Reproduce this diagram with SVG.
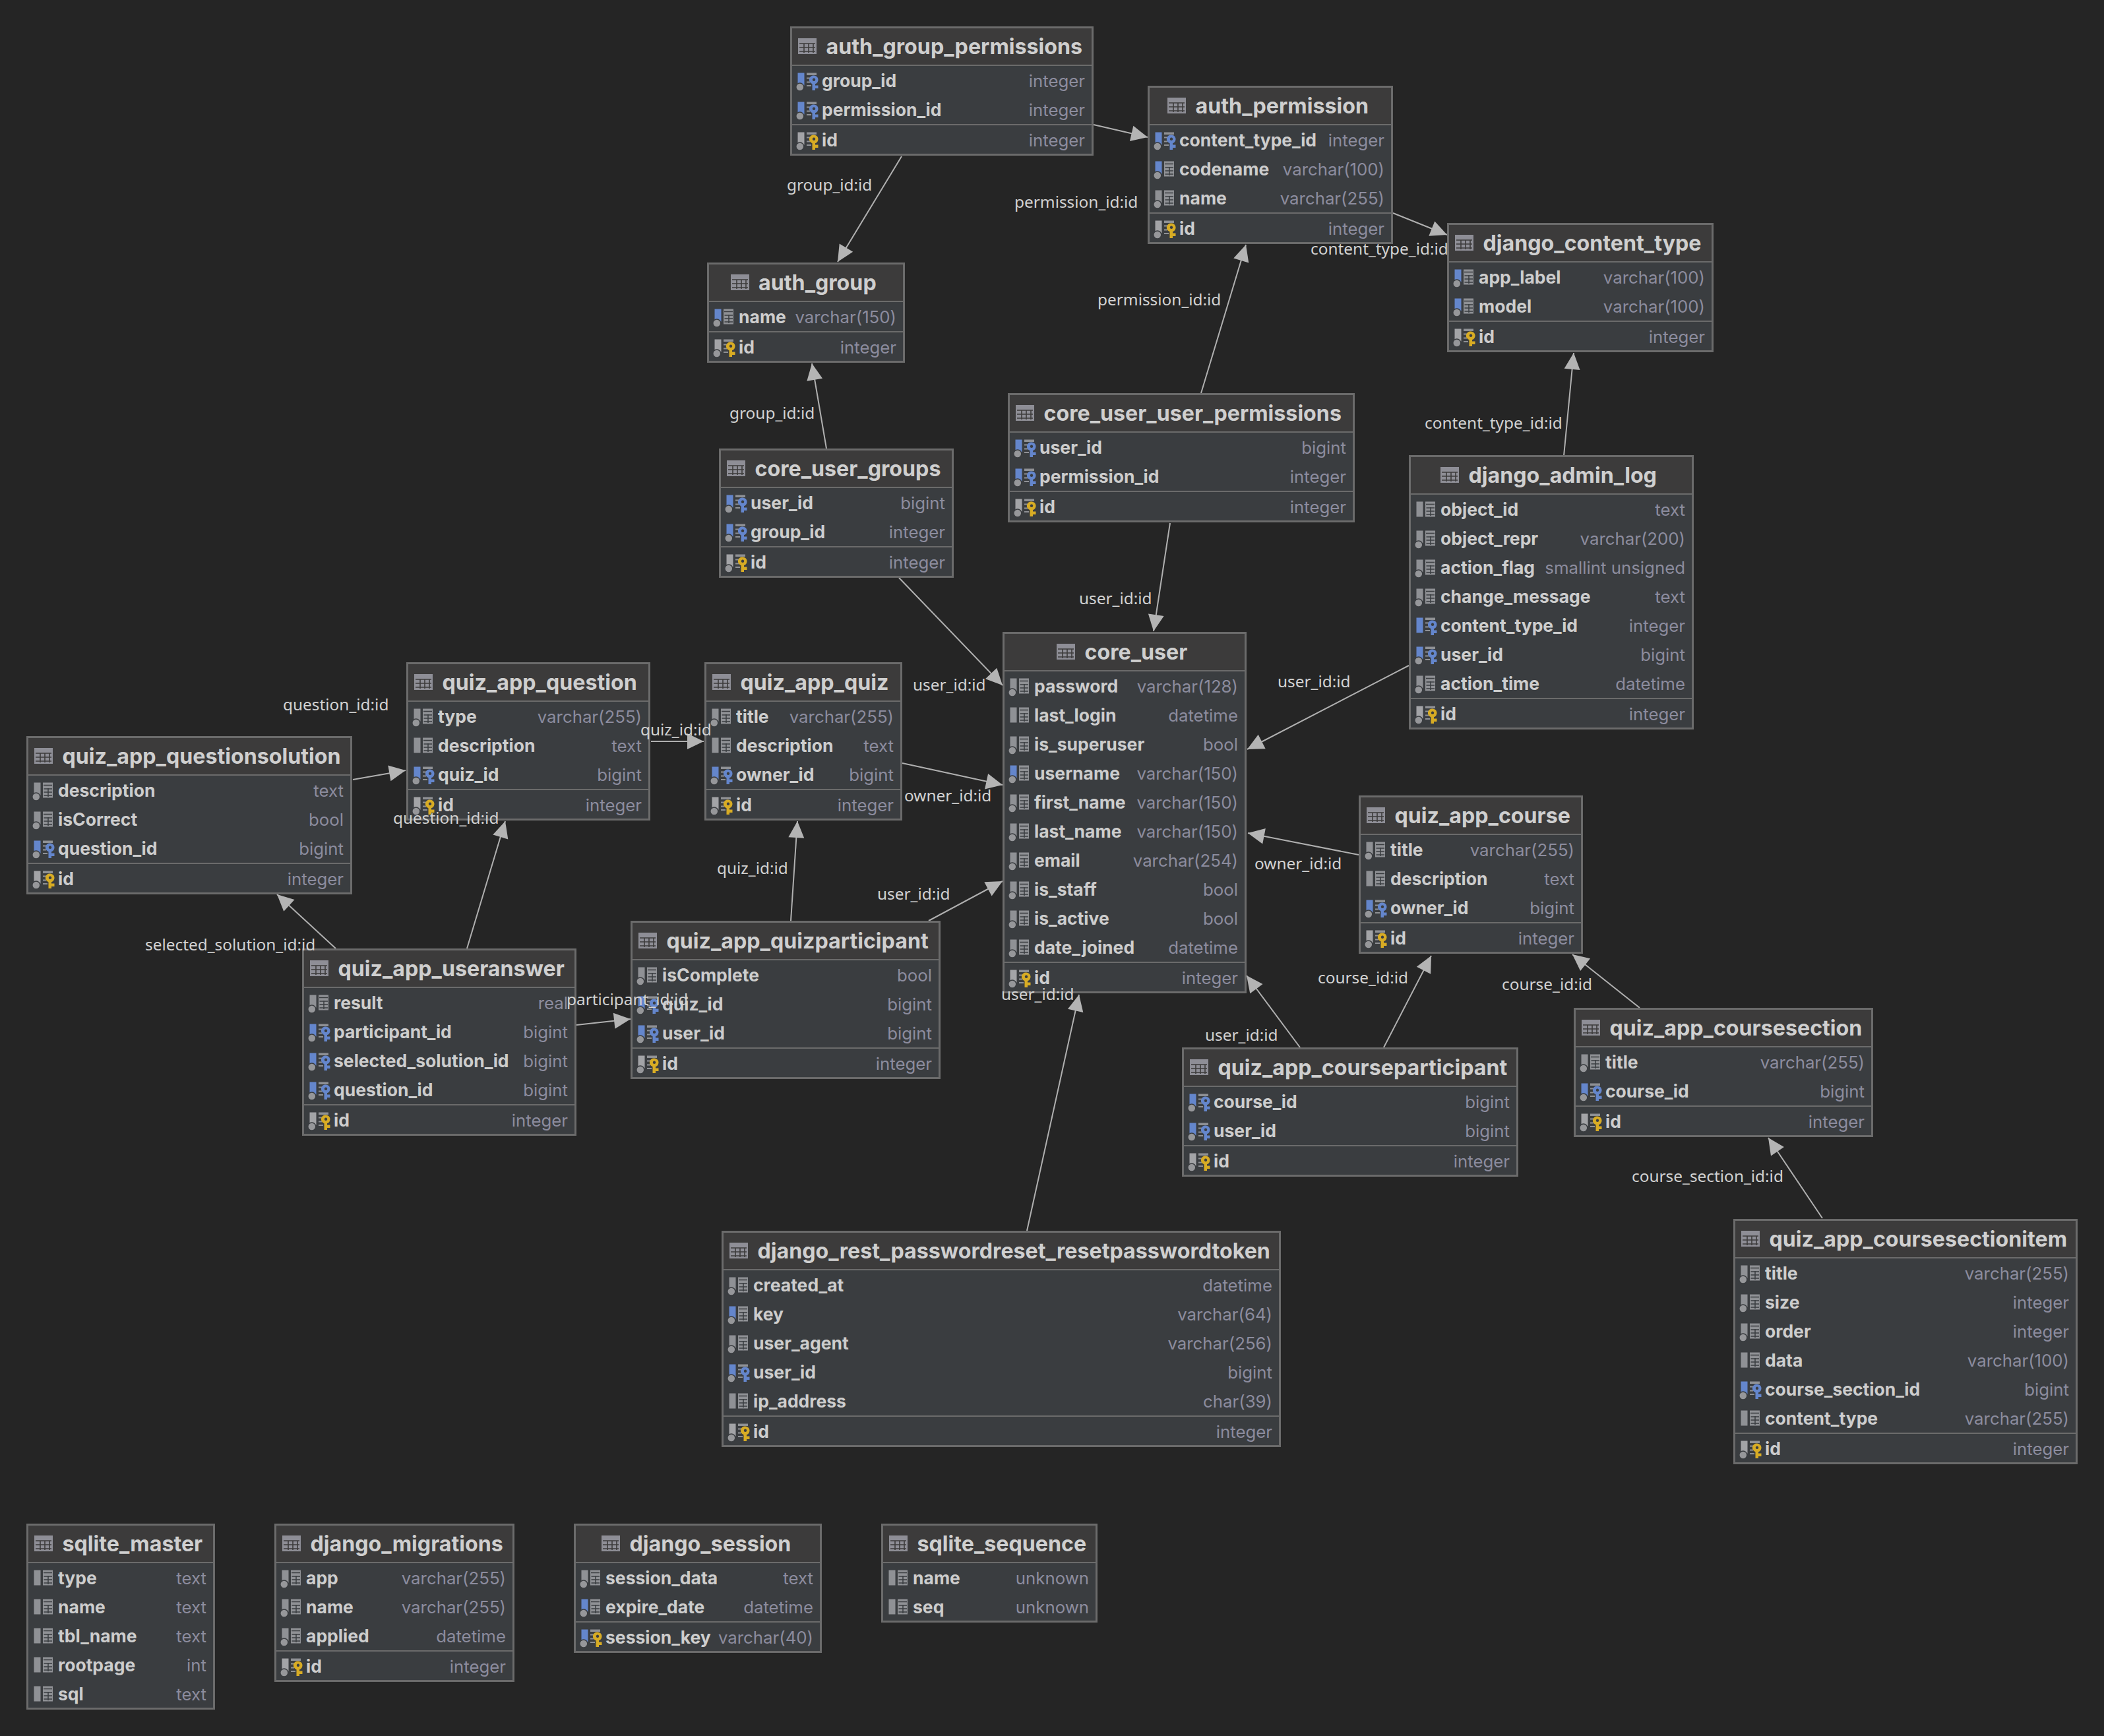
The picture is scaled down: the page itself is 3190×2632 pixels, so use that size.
<svg xmlns="http://www.w3.org/2000/svg" width="3190" height="2632" viewBox="0 0 3190 2632">
<style>
.bo{fill:#3a3d40;stroke:#6b6b6b;stroke-width:3}
.hd{fill:#3c3b3b}
.ln{stroke:#6b6b6b;stroke-width:2;fill:none}
.tt{font:700 32.200px Inter,"Liberation Sans",sans-serif;fill:#cfcfcf}
.f{font:700 26.500px Inter,"Liberation Sans",sans-serif;fill:#cdcdcd}
.t{font:400 25.800px Inter,"Liberation Sans",sans-serif;fill:#8c8c9e;text-anchor:end}
.l{font:400 24.400px "Noto Sans",sans-serif;fill:#d2d2d2}
.c line{stroke:#b0b0b0;stroke-width:2;marker-end:url(#a)}
</style>
<defs>
<marker id="a" markerUnits="userSpaceOnUse" markerWidth="27" markerHeight="26" refX="26" refY="13" orient="auto"><path d="M1 1L26 13L1 25Z" fill="#b4b4b4"/></marker>
<g id="ti"><rect x="0" y="0" width="28" height="24" fill="#8e8e96"/><path d="M2 8H26M2 14H26M2 20H26M9 8V22M16 8V22M23 8V22" stroke="#3c3b3b" stroke-width="1.600" fill="none"/></g>
<g id="gr"><rect x="25" y="-12.500" width="15" height="23" fill="#8f9195"/><path d="M26 -8.500H39M33 -4V9M26.500 -3H39M26.500 2H39M26.500 7H39" stroke="#3a3d40" stroke-width="1.500" fill="none"/></g>
<g id="gk"><rect x="25" y="-12.500" width="15" height="3.500" fill="#8f9195"/><path d="M25 -4.500H31M25 1.500H30M25 7H32" stroke="#8f9195" stroke-width="2" fill="none"/></g>
<g id="kb"><path fill="#6486cc" fill-rule="evenodd" d="M36 -8.500A6.500 6.500 0 0 1 38 4.200V6.500H42.500V11H38V14H33.500V4.200A6.500 6.500 0 0 1 36 -8.500ZM36 -4.400A2.200 2.200 0 1 0 36.010 -4.400Z"/></g>
<g id="ky"><path fill="#d8ac24" fill-rule="evenodd" d="M36 -8.500A6.500 6.500 0 0 1 38 4.200V6.500H42.500V11H38V14H33.500V4.200A6.500 6.500 0 0 1 36 -8.500ZM36 -4.400A2.200 2.200 0 1 0 36.010 -4.400Z"/></g>
<g id="dot"><circle cx="14.800" cy="9" r="6" fill="#96979a" stroke="#3a3d40" stroke-width="1.500"/></g>
<g id="p"><rect x="11.500" y="-12.500" width="10" height="23" fill="#8f9195"/><use href="#gr"/></g>
<g id="n"><rect x="11.500" y="-12.500" width="10" height="19" fill="#8f9195"/><use href="#gr"/><use href="#dot"/></g>
<g id="i"><rect x="11.500" y="-12.500" width="10" height="19" fill="#6486cc"/><use href="#gr"/><use href="#dot"/></g>
<g id="f"><rect x="11.500" y="-12.500" width="10" height="19" fill="#6486cc"/><use href="#gk"/><use href="#kb"/><use href="#dot"/></g>
<g id="F"><rect x="11.500" y="-12.500" width="10" height="23" fill="#6486cc"/><use href="#gk"/><use href="#kb"/></g>
<g id="k"><rect x="11.500" y="-12.500" width="10" height="19" fill="#a3a4a7"/><use href="#gk"/><use href="#ky"/><use href="#dot"/></g>
<g id="K"><rect x="11.500" y="-12.500" width="10" height="19" fill="#6486cc"/><use href="#gk"/><use href="#ky"/><use href="#dot"/></g>
</defs>
<rect width="3190" height="2632" fill="#252525"/>
<g id="connectors" class="c">
<line x1="1658" y1="189" x2="1740" y2="208"/>
<line x1="1367" y1="237" x2="1270" y2="397"/>
<line x1="2112" y1="323" x2="2194" y2="356"/>
<line x1="1821" y1="596" x2="1889" y2="371"/>
<line x1="1253" y1="680" x2="1231" y2="551"/>
<line x1="1774" y1="793" x2="1749" y2="957"/>
<line x1="1363" y1="876" x2="1520" y2="1039"/>
<line x1="2136" y1="1009" x2="1891" y2="1136"/>
<line x1="2371" y1="691" x2="2386" y2="535"/>
<line x1="535" y1="1182" x2="615" y2="1168"/>
<line x1="987" y1="1124" x2="1067" y2="1124"/>
<line x1="1368" y1="1157" x2="1520" y2="1190"/>
<line x1="1199" y1="1396" x2="1209" y2="1245"/>
<line x1="1408" y1="1396" x2="1520" y2="1336"/>
<line x1="708" y1="1438" x2="766" y2="1245"/>
<line x1="509" y1="1438" x2="420" y2="1356"/>
<line x1="874" y1="1554" x2="956" y2="1545"/>
<line x1="2060" y1="1296" x2="1892" y2="1263"/>
<line x1="2098" y1="1588" x2="2170" y2="1449"/>
<line x1="1971" y1="1588" x2="1890" y2="1479"/>
<line x1="2486" y1="1528" x2="2384" y2="1447"/>
<line x1="2763" y1="1847" x2="2681" y2="1725"/>
<line x1="1557" y1="1866" x2="1636" y2="1508"/>
</g>
<g id="auth_group_permissions" transform="translate(1198,40)"><rect class="bo" x="1.500" y="1.500" width="457" height="193"/><rect class="hd" x="3" y="3" width="454" height="55"/><path class="ln" d="M3 59H457M3 149H457"/><use href="#ti" x="12" y="18"/><text class="tt" x="54.500" y="42">auth_group_permissions</text>
<use href="#f" y="83"/><text class="f" x="48" y="92">group_id</text><text class="t" x="447" y="92">integer</text>
<use href="#f" y="127"/><text class="f" x="48" y="136">permission_id</text><text class="t" x="447" y="136">integer</text>
<use href="#k" y="173"/><text class="f" x="48" y="182">id</text><text class="t" x="447" y="182">integer</text></g>
<g id="auth_permission" transform="translate(1740,130)"><rect class="bo" x="1.500" y="1.500" width="369" height="237"/><rect class="hd" x="3" y="3" width="366" height="55"/><path class="ln" d="M3 59H369M3 193H369"/><use href="#ti" x="30" y="18"/><text class="tt" x="72.500" y="42">auth_permission</text>
<use href="#f" y="83"/><text class="f" x="48" y="92">content_type_id</text><text class="t" x="359" y="92">integer</text>
<use href="#i" y="127"/><text class="f" x="48" y="136">codename</text><text class="t" x="359" y="136">varchar(100)</text>
<use href="#n" y="171"/><text class="f" x="48" y="180">name</text><text class="t" x="359" y="180">varchar(255)</text>
<use href="#k" y="217"/><text class="f" x="48" y="226">id</text><text class="t" x="359" y="226">integer</text></g>
<g id="django_content_type" transform="translate(2194,338)"><rect class="bo" x="1.500" y="1.500" width="401" height="193"/><rect class="hd" x="3" y="3" width="398" height="55"/><path class="ln" d="M3 59H401M3 149H401"/><use href="#ti" x="12" y="18"/><text class="tt" x="54.500" y="42">django_content_type</text>
<use href="#i" y="83"/><text class="f" x="48" y="92">app_label</text><text class="t" x="391" y="92">varchar(100)</text>
<use href="#i" y="127"/><text class="f" x="48" y="136">model</text><text class="t" x="391" y="136">varchar(100)</text>
<use href="#k" y="173"/><text class="f" x="48" y="182">id</text><text class="t" x="391" y="182">integer</text></g>
<g id="auth_group" transform="translate(1072,398)"><rect class="bo" x="1.500" y="1.500" width="297" height="149"/><rect class="hd" x="3" y="3" width="294" height="55"/><path class="ln" d="M3 59H297M3 105H297"/><use href="#ti" x="36" y="18"/><text class="tt" x="78" y="42">auth_group</text>
<use href="#i" y="83"/><text class="f" x="48" y="92">name</text><text class="t" x="287" y="92">varchar(150)</text>
<use href="#k" y="129"/><text class="f" x="48" y="138">id</text><text class="t" x="287" y="138">integer</text></g>
<g id="core_user_user_permissions" transform="translate(1528,596)"><rect class="bo" x="1.500" y="1.500" width="523" height="193"/><rect class="hd" x="3" y="3" width="520" height="55"/><path class="ln" d="M3 59H523M3 149H523"/><use href="#ti" x="12" y="18"/><text class="tt" x="54.500" y="42">core_user_user_permissions</text>
<use href="#f" y="83"/><text class="f" x="48" y="92">user_id</text><text class="t" x="513" y="92">bigint</text>
<use href="#f" y="127"/><text class="f" x="48" y="136">permission_id</text><text class="t" x="513" y="136">integer</text>
<use href="#k" y="173"/><text class="f" x="48" y="182">id</text><text class="t" x="513" y="182">integer</text></g>
<g id="core_user_groups" transform="translate(1090,680)"><rect class="bo" x="1.500" y="1.500" width="353" height="193"/><rect class="hd" x="3" y="3" width="350" height="55"/><path class="ln" d="M3 59H353M3 149H353"/><use href="#ti" x="12" y="18"/><text class="tt" x="54.500" y="42">core_user_groups</text>
<use href="#f" y="83"/><text class="f" x="48" y="92">user_id</text><text class="t" x="343" y="92">bigint</text>
<use href="#f" y="127"/><text class="f" x="48" y="136">group_id</text><text class="t" x="343" y="136">integer</text>
<use href="#k" y="173"/><text class="f" x="48" y="182">id</text><text class="t" x="343" y="182">integer</text></g>
<g id="django_admin_log" transform="translate(2136,690)"><rect class="bo" x="1.500" y="1.500" width="429" height="413"/><rect class="hd" x="3" y="3" width="426" height="55"/><path class="ln" d="M3 59H429M3 369H429"/><use href="#ti" x="48" y="18"/><text class="tt" x="90.500" y="42">django_admin_log</text>
<use href="#p" y="83"/><text class="f" x="48" y="92">object_id</text><text class="t" x="419" y="92">text</text>
<use href="#n" y="127"/><text class="f" x="48" y="136">object_repr</text><text class="t" x="419" y="136">varchar(200)</text>
<use href="#n" y="171"/><text class="f" x="48" y="180">action_flag</text><text class="t" x="419" y="180">smallint unsigned</text>
<use href="#n" y="215"/><text class="f" x="48" y="224">change_message</text><text class="t" x="419" y="224">text</text>
<use href="#F" y="259"/><text class="f" x="48" y="268">content_type_id</text><text class="t" x="419" y="268">integer</text>
<use href="#f" y="303"/><text class="f" x="48" y="312">user_id</text><text class="t" x="419" y="312">bigint</text>
<use href="#n" y="347"/><text class="f" x="48" y="356">action_time</text><text class="t" x="419" y="356">datetime</text>
<use href="#k" y="393"/><text class="f" x="48" y="402">id</text><text class="t" x="419" y="402">integer</text></g>
<g id="core_user" transform="translate(1520,958)"><rect class="bo" x="1.500" y="1.500" width="367" height="545"/><rect class="hd" x="3" y="3" width="364" height="55"/><path class="ln" d="M3 59H367M3 501H367"/><use href="#ti" x="82" y="18"/><text class="tt" x="124.500" y="42">core_user</text>
<use href="#n" y="83"/><text class="f" x="48" y="92">password</text><text class="t" x="357" y="92">varchar(128)</text>
<use href="#p" y="127"/><text class="f" x="48" y="136">last_login</text><text class="t" x="357" y="136">datetime</text>
<use href="#n" y="171"/><text class="f" x="48" y="180">is_superuser</text><text class="t" x="357" y="180">bool</text>
<use href="#i" y="215"/><text class="f" x="48" y="224">username</text><text class="t" x="357" y="224">varchar(150)</text>
<use href="#n" y="259"/><text class="f" x="48" y="268">first_name</text><text class="t" x="357" y="268">varchar(150)</text>
<use href="#n" y="303"/><text class="f" x="48" y="312">last_name</text><text class="t" x="357" y="312">varchar(150)</text>
<use href="#n" y="347"/><text class="f" x="48" y="356">email</text><text class="t" x="357" y="356">varchar(254)</text>
<use href="#n" y="391"/><text class="f" x="48" y="400">is_staff</text><text class="t" x="357" y="400">bool</text>
<use href="#n" y="435"/><text class="f" x="48" y="444">is_active</text><text class="t" x="357" y="444">bool</text>
<use href="#n" y="479"/><text class="f" x="48" y="488">date_joined</text><text class="t" x="357" y="488">datetime</text>
<use href="#k" y="525"/><text class="f" x="48" y="534">id</text><text class="t" x="357" y="534">integer</text></g>
<g id="quiz_app_question" transform="translate(616,1004)"><rect class="bo" x="1.500" y="1.500" width="367" height="237"/><rect class="hd" x="3" y="3" width="364" height="55"/><path class="ln" d="M3 59H367M3 193H367"/><use href="#ti" x="12" y="18"/><text class="tt" x="54.500" y="42">quiz_app_question</text>
<use href="#n" y="83"/><text class="f" x="48" y="92">type</text><text class="t" x="357" y="92">varchar(255)</text>
<use href="#p" y="127"/><text class="f" x="48" y="136">description</text><text class="t" x="357" y="136">text</text>
<use href="#f" y="171"/><text class="f" x="48" y="180">quiz_id</text><text class="t" x="357" y="180">bigint</text>
<use href="#k" y="217"/><text class="f" x="48" y="226">id</text><text class="t" x="357" y="226">integer</text></g>
<g id="quiz_app_quiz" transform="translate(1068,1004)"><rect class="bo" x="1.500" y="1.500" width="297" height="237"/><rect class="hd" x="3" y="3" width="294" height="55"/><path class="ln" d="M3 59H297M3 193H297"/><use href="#ti" x="12" y="18"/><text class="tt" x="54.500" y="42">quiz_app_quiz</text>
<use href="#n" y="83"/><text class="f" x="48" y="92">title</text><text class="t" x="287" y="92">varchar(255)</text>
<use href="#p" y="127"/><text class="f" x="48" y="136">description</text><text class="t" x="287" y="136">text</text>
<use href="#f" y="171"/><text class="f" x="48" y="180">owner_id</text><text class="t" x="287" y="180">bigint</text>
<use href="#k" y="217"/><text class="f" x="48" y="226">id</text><text class="t" x="287" y="226">integer</text></g>
<g id="quiz_app_questionsolution" transform="translate(40,1116)"><rect class="bo" x="1.500" y="1.500" width="491" height="237"/><rect class="hd" x="3" y="3" width="488" height="55"/><path class="ln" d="M3 59H491M3 193H491"/><use href="#ti" x="12" y="18"/><text class="tt" x="54.500" y="42">quiz_app_questionsolution</text>
<use href="#n" y="83"/><text class="f" x="48" y="92">description</text><text class="t" x="481" y="92">text</text>
<use href="#n" y="127"/><text class="f" x="48" y="136">isCorrect</text><text class="t" x="481" y="136">bool</text>
<use href="#f" y="171"/><text class="f" x="48" y="180">question_id</text><text class="t" x="481" y="180">bigint</text>
<use href="#k" y="217"/><text class="f" x="48" y="226">id</text><text class="t" x="481" y="226">integer</text></g>
<g id="quiz_app_useranswer" transform="translate(458,1438)"><rect class="bo" x="1.500" y="1.500" width="413" height="281"/><rect class="hd" x="3" y="3" width="410" height="55"/><path class="ln" d="M3 59H413M3 237H413"/><use href="#ti" x="12" y="18"/><text class="tt" x="54.500" y="42">quiz_app_useranswer</text>
<use href="#n" y="83"/><text class="f" x="48" y="92">result</text><text class="t" x="403" y="92">real</text>
<use href="#f" y="127"/><text class="f" x="48" y="136">participant_id</text><text class="t" x="403" y="136">bigint</text>
<use href="#f" y="171"/><text class="f" x="48" y="180">selected_solution_id</text><text class="t" x="403" y="180">bigint</text>
<use href="#f" y="215"/><text class="f" x="48" y="224">question_id</text><text class="t" x="403" y="224">bigint</text>
<use href="#k" y="261"/><text class="f" x="48" y="270">id</text><text class="t" x="403" y="270">integer</text></g>
<g id="quiz_app_quizparticipant" transform="translate(956,1396)"><rect class="bo" x="1.500" y="1.500" width="467" height="237"/><rect class="hd" x="3" y="3" width="464" height="55"/><path class="ln" d="M3 59H467M3 193H467"/><use href="#ti" x="12" y="18"/><text class="tt" x="54.500" y="42">quiz_app_quizparticipant</text>
<use href="#n" y="83"/><text class="f" x="48" y="92">isComplete</text><text class="t" x="457" y="92">bool</text>
<use href="#f" y="127"/><text class="f" x="48" y="136">quiz_id</text><text class="t" x="457" y="136">bigint</text>
<use href="#f" y="171"/><text class="f" x="48" y="180">user_id</text><text class="t" x="457" y="180">bigint</text>
<use href="#k" y="217"/><text class="f" x="48" y="226">id</text><text class="t" x="457" y="226">integer</text></g>
<g id="quiz_app_course" transform="translate(2060,1206)"><rect class="bo" x="1.500" y="1.500" width="337" height="237"/><rect class="hd" x="3" y="3" width="334" height="55"/><path class="ln" d="M3 59H337M3 193H337"/><use href="#ti" x="12" y="18"/><text class="tt" x="54.500" y="42">quiz_app_course</text>
<use href="#n" y="83"/><text class="f" x="48" y="92">title</text><text class="t" x="327" y="92">varchar(255)</text>
<use href="#p" y="127"/><text class="f" x="48" y="136">description</text><text class="t" x="327" y="136">text</text>
<use href="#f" y="171"/><text class="f" x="48" y="180">owner_id</text><text class="t" x="327" y="180">bigint</text>
<use href="#k" y="217"/><text class="f" x="48" y="226">id</text><text class="t" x="327" y="226">integer</text></g>
<g id="quiz_app_coursesection" transform="translate(2386,1528)"><rect class="bo" x="1.500" y="1.500" width="451" height="193"/><rect class="hd" x="3" y="3" width="448" height="55"/><path class="ln" d="M3 59H451M3 149H451"/><use href="#ti" x="12" y="18"/><text class="tt" x="54.500" y="42">quiz_app_coursesection</text>
<use href="#n" y="83"/><text class="f" x="48" y="92">title</text><text class="t" x="441" y="92">varchar(255)</text>
<use href="#f" y="127"/><text class="f" x="48" y="136">course_id</text><text class="t" x="441" y="136">bigint</text>
<use href="#k" y="173"/><text class="f" x="48" y="182">id</text><text class="t" x="441" y="182">integer</text></g>
<g id="quiz_app_courseparticipant" transform="translate(1792,1588)"><rect class="bo" x="1.500" y="1.500" width="507" height="193"/><rect class="hd" x="3" y="3" width="504" height="55"/><path class="ln" d="M3 59H507M3 149H507"/><use href="#ti" x="12" y="18"/><text class="tt" x="54.500" y="42">quiz_app_courseparticipant</text>
<use href="#f" y="83"/><text class="f" x="48" y="92">course_id</text><text class="t" x="497" y="92">bigint</text>
<use href="#f" y="127"/><text class="f" x="48" y="136">user_id</text><text class="t" x="497" y="136">bigint</text>
<use href="#k" y="173"/><text class="f" x="48" y="182">id</text><text class="t" x="497" y="182">integer</text></g>
<g id="quiz_app_coursesectionitem" transform="translate(2628,1848)"><rect class="bo" x="1.500" y="1.500" width="519" height="369"/><rect class="hd" x="3" y="3" width="516" height="55"/><path class="ln" d="M3 59H519M3 325H519"/><use href="#ti" x="12" y="18"/><text class="tt" x="54.500" y="42">quiz_app_coursesectionitem</text>
<use href="#n" y="83"/><text class="f" x="48" y="92">title</text><text class="t" x="509" y="92">varchar(255)</text>
<use href="#n" y="127"/><text class="f" x="48" y="136">size</text><text class="t" x="509" y="136">integer</text>
<use href="#n" y="171"/><text class="f" x="48" y="180">order</text><text class="t" x="509" y="180">integer</text>
<use href="#p" y="215"/><text class="f" x="48" y="224">data</text><text class="t" x="509" y="224">varchar(100)</text>
<use href="#f" y="259"/><text class="f" x="48" y="268">course_section_id</text><text class="t" x="509" y="268">bigint</text>
<use href="#p" y="303"/><text class="f" x="48" y="312">content_type</text><text class="t" x="509" y="312">varchar(255)</text>
<use href="#k" y="349"/><text class="f" x="48" y="358">id</text><text class="t" x="509" y="358">integer</text></g>
<g id="django_rest_passwordreset_resetpasswordtoken" transform="translate(1094,1866)"><rect class="bo" x="1.500" y="1.500" width="845" height="325"/><rect class="hd" x="3" y="3" width="842" height="55"/><path class="ln" d="M3 59H845M3 281H845"/><use href="#ti" x="12" y="18"/><text class="tt" x="54.500" y="42">django_rest_passwordreset_resetpasswordtoken</text>
<use href="#n" y="83"/><text class="f" x="48" y="92">created_at</text><text class="t" x="835" y="92">datetime</text>
<use href="#i" y="127"/><text class="f" x="48" y="136">key</text><text class="t" x="835" y="136">varchar(64)</text>
<use href="#n" y="171"/><text class="f" x="48" y="180">user_agent</text><text class="t" x="835" y="180">varchar(256)</text>
<use href="#f" y="215"/><text class="f" x="48" y="224">user_id</text><text class="t" x="835" y="224">bigint</text>
<use href="#p" y="259"/><text class="f" x="48" y="268">ip_address</text><text class="t" x="835" y="268">char(39)</text>
<use href="#k" y="305"/><text class="f" x="48" y="314">id</text><text class="t" x="835" y="314">integer</text></g>
<g id="sqlite_master" transform="translate(40,2310)"><rect class="bo" x="1.500" y="1.500" width="283" height="279"/><rect class="hd" x="3" y="3" width="280" height="55"/><path class="ln" d="M3 59H283"/><use href="#ti" x="12" y="18"/><text class="tt" x="54.500" y="42">sqlite_master</text>
<use href="#p" y="83"/><text class="f" x="48" y="92">type</text><text class="t" x="273" y="92">text</text>
<use href="#p" y="127"/><text class="f" x="48" y="136">name</text><text class="t" x="273" y="136">text</text>
<use href="#p" y="171"/><text class="f" x="48" y="180">tbl_name</text><text class="t" x="273" y="180">text</text>
<use href="#p" y="215"/><text class="f" x="48" y="224">rootpage</text><text class="t" x="273" y="224">int</text>
<use href="#p" y="259"/><text class="f" x="48" y="268">sql</text><text class="t" x="273" y="268">text</text></g>
<g id="django_migrations" transform="translate(416,2310)"><rect class="bo" x="1.500" y="1.500" width="361" height="237"/><rect class="hd" x="3" y="3" width="358" height="55"/><path class="ln" d="M3 59H361M3 193H361"/><use href="#ti" x="12" y="18"/><text class="tt" x="54.500" y="42">django_migrations</text>
<use href="#n" y="83"/><text class="f" x="48" y="92">app</text><text class="t" x="351" y="92">varchar(255)</text>
<use href="#n" y="127"/><text class="f" x="48" y="136">name</text><text class="t" x="351" y="136">varchar(255)</text>
<use href="#n" y="171"/><text class="f" x="48" y="180">applied</text><text class="t" x="351" y="180">datetime</text>
<use href="#k" y="217"/><text class="f" x="48" y="226">id</text><text class="t" x="351" y="226">integer</text></g>
<g id="django_session" transform="translate(870,2310)"><rect class="bo" x="1.500" y="1.500" width="373" height="193"/><rect class="hd" x="3" y="3" width="370" height="55"/><path class="ln" d="M3 59H373M3 149H373"/><use href="#ti" x="42" y="18"/><text class="tt" x="84.500" y="42">django_session</text>
<use href="#n" y="83"/><text class="f" x="48" y="92">session_data</text><text class="t" x="363" y="92">text</text>
<use href="#i" y="127"/><text class="f" x="48" y="136">expire_date</text><text class="t" x="363" y="136">datetime</text>
<use href="#K" y="173"/><text class="f" x="48" y="182">session_key</text><text class="t" x="363" y="182">varchar(40)</text></g>
<g id="sqlite_sequence" transform="translate(1336,2310)"><rect class="bo" x="1.500" y="1.500" width="325" height="147"/><rect class="hd" x="3" y="3" width="322" height="55"/><path class="ln" d="M3 59H325"/><use href="#ti" x="12" y="18"/><text class="tt" x="54.500" y="42">sqlite_sequence</text>
<use href="#p" y="83"/><text class="f" x="48" y="92">name</text><text class="t" x="315" y="92">unknown</text>
<use href="#p" y="127"/><text class="f" x="48" y="136">seq</text><text class="t" x="315" y="136">unknown</text></g>
<g id="connector-labels" class="l">
<text class="l" x="1193" y="289">group_id:id</text>
<text class="l" x="1538" y="315">permission_id:id</text>
<text class="l" x="1987" y="386">content_type_id:id</text>
<text class="l" x="1664" y="463">permission_id:id</text>
<text class="l" x="1106" y="635">group_id:id</text>
<text class="l" x="2160" y="650">content_type_id:id</text>
<text class="l" x="1636" y="916">user_id:id</text>
<text class="l" x="1384" y="1047">user_id:id</text>
<text class="l" x="1937" y="1042">user_id:id</text>
<text class="l" x="429" y="1077">question_id:id</text>
<text class="l" x="971" y="1115">quiz_id:id</text>
<text class="l" x="1371" y="1215">owner_id:id</text>
<text class="l" x="596" y="1249">question_id:id</text>
<text class="l" x="1087" y="1325">quiz_id:id</text>
<text class="l" x="1330" y="1364">user_id:id</text>
<text class="l" x="1902" y="1318">owner_id:id</text>
<text class="l" x="220" y="1441">selected_solution_id:id</text>
<text class="l" x="859" y="1524">participant_id:id</text>
<text class="l" x="1518" y="1516">user_id:id</text>
<text class="l" x="1998" y="1491">course_id:id</text>
<text class="l" x="2277" y="1501">course_id:id</text>
<text class="l" x="1827" y="1578">user_id:id</text>
<text class="l" x="2474" y="1792">course_section_id:id</text>
</g>
</svg>
